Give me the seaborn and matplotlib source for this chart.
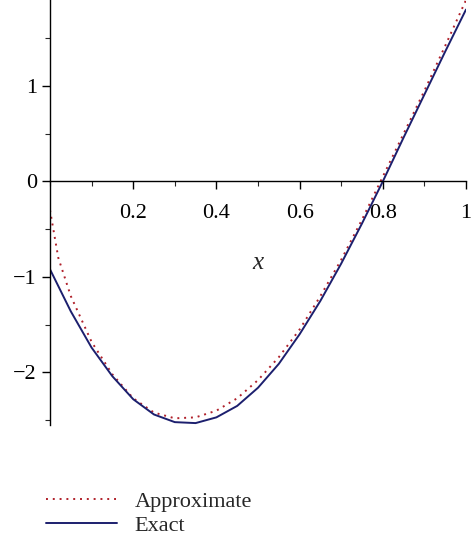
import matplotlib
matplotlib.use("Agg")
import matplotlib.pyplot as plt
import seaborn as sns
import pandas as pd
from matplotlib.ticker import MultipleLocator

sns.set_style("white")
plt.rcParams['font.family'] = ['Liberation Serif', 'DejaVu Serif']

# values
x_exact = [0, 0.05, 0.1, 0.15, 0.2, 0.25, 0.3, 0.35, 0.4, 0.45, 0.5,
           0.55, 0.6, 0.65, 0.7, 0.75, 0.8, 0.85, 0.9, 0.95, 1.0]
y_exact = [-0.92, -1.36, -1.74, -2.04, -2.28, -2.44, -2.52, -2.53, -2.47, -2.35, -2.16,
           -1.91, -1.6, -1.25, -0.86, -0.44, 0.0, 0.46, 0.91, 1.36, 1.8]
x_approx = [0, 0.02, 0.05, 0.1, 0.15, 0.2, 0.25, 0.3, 0.35, 0.4, 0.45, 0.5,
            0.55, 0.6, 0.65, 0.7, 0.75, 0.8, 0.85, 0.9, 0.95, 1.0]
y_approx = [-0.3, -0.8, -1.2, -1.68, -2.02, -2.27, -2.42, -2.48, -2.47, -2.4, -2.27, -2.08,
            -1.84, -1.55, -1.2, -0.82, -0.4, 0.05, 0.5, 0.95, 1.42, 1.9]

exact = pd.DataFrame({"x": x_exact, "y": y_exact})
approx = pd.DataFrame({"x": x_approx, "y": y_approx})

fig = plt.figure(figsize=(4.74, 5.35), dpi=100)
ax = fig.add_axes([50 / 474, 1 - 425 / 535, 416 / 474, 425 / 535])

sns.lineplot(data=approx, x="x", y="y", ax=ax, color="#b0202a", linestyle=(0, (1, 2.5)),
             linewidth=1.4, label="Approximate", legend=False)
sns.lineplot(data=exact, x="x", y="y", ax=ax, color="#1c1f6e", linewidth=1.4,
             label="Exact", legend=False)

ax.set_xlim(0, 1)
ax.set_ylim(-2.55, 1.9)
ax.spines['left'].set_position(('data', 0))
ax.spines['bottom'].set_position(('data', 0))
ax.spines['top'].set_visible(False)
ax.spines['right'].set_visible(False)
for s in ('left', 'bottom'):
    ax.spines[s].set_color('black')
    ax.spines[s].set_linewidth(1.0)

ax.xaxis.set_major_locator(MultipleLocator(0.2))
ax.xaxis.set_minor_locator(MultipleLocator(0.1))
ax.yaxis.set_major_locator(MultipleLocator(1))
ax.yaxis.set_minor_locator(MultipleLocator(0.5))
ax.set_xticks([0.2, 0.4, 0.6, 0.8, 1.0])
ax.set_xticklabels(["0.2", "0.4", "0.6", "0.8", "1"])
ax.set_yticks([-2, -1, 0, 1])
ax.set_yticklabels(["\u22122", "\u22121", "0", "1"])
ax.tick_params(axis='both', which='major', direction='out', length=6, width=1,
               labelsize=16, colors='black', bottom=True, left=True)
ax.tick_params(axis='both', which='minor', direction='out', length=3.5, width=0.8,
               bottom=True, left=True)
ax.tick_params(axis='x', which='major', pad=10)
ax.set_xlabel("")
ax.set_ylabel("")
ax.text(0.5, -0.85, "x", fontsize=18, style='italic', ha='center', va='center')

fig.legend(loc='upper left', bbox_to_anchor=(30 / 474, 1 - 476 / 535), frameon=False,
           fontsize=16, handlelength=3.2, labelspacing=0.15, borderpad=0.2)

fig.savefig("out.png", dpi=100)
